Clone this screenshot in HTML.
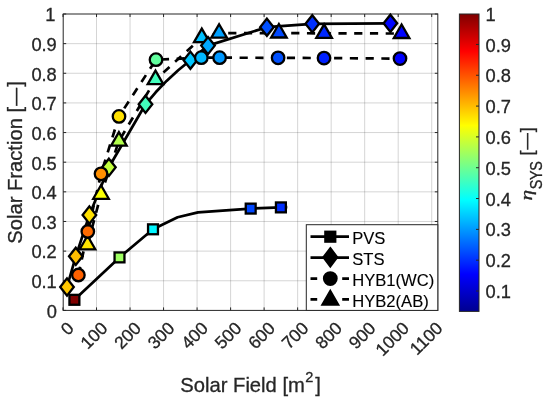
<!DOCTYPE html>
<html><head><meta charset="utf-8"><title>Solar Fraction vs Solar Field</title>
<style>html,body{margin:0;padding:0;background:#fff}svg{display:block}text{font-family:"Liberation Sans",sans-serif;fill:#262626;stroke:#262626;stroke-width:0.3px}</style></head><body>
<svg width="550" height="404" viewBox="0 0 550 404">
<rect width="550" height="404" fill="#fff"/>
<path d="M96.52 14.00V310.40M130.04 14.00V310.40M163.56 14.00V310.40M197.08 14.00V310.40M230.60 14.00V310.40M264.12 14.00V310.40M297.64 14.00V310.40M331.16 14.00V310.40M364.68 14.00V310.40M398.20 14.00V310.40M431.72 14.00V310.40M63.20 280.76H437.80M63.20 251.12H437.80M63.20 221.48H437.80M63.20 191.84H437.80M63.20 162.20H437.80M63.20 132.56H437.80M63.20 102.92H437.80M63.20 73.28H437.80M63.20 43.64H437.80" stroke="#262626" stroke-opacity="0.26" stroke-width="0.75" fill="none"/>
<path d="M63.00 310.40v-3.00M63.00 14.00v3.00M96.52 310.40v-3.00M96.52 14.00v3.00M130.04 310.40v-3.00M130.04 14.00v3.00M163.56 310.40v-3.00M163.56 14.00v3.00M197.08 310.40v-3.00M197.08 14.00v3.00M230.60 310.40v-3.00M230.60 14.00v3.00M264.12 310.40v-3.00M264.12 14.00v3.00M297.64 310.40v-3.00M297.64 14.00v3.00M331.16 310.40v-3.00M331.16 14.00v3.00M364.68 310.40v-3.00M364.68 14.00v3.00M398.20 310.40v-3.00M398.20 14.00v3.00M431.72 310.40v-3.00M431.72 14.00v3.00M63.20 310.40h3.00M437.80 310.40h-3.00M63.20 280.76h3.00M437.80 280.76h-3.00M63.20 251.12h3.00M437.80 251.12h-3.00M63.20 221.48h3.00M437.80 221.48h-3.00M63.20 191.84h3.00M437.80 191.84h-3.00M63.20 162.20h3.00M437.80 162.20h-3.00M63.20 132.56h3.00M437.80 132.56h-3.00M63.20 102.92h3.00M437.80 102.92h-3.00M63.20 73.28h3.00M437.80 73.28h-3.00M63.20 43.64h3.00M437.80 43.64h-3.00M63.20 14.00h3.00M437.80 14.00h-3.00" stroke="#262626" stroke-width="1" fill="none"/>
<rect x="63.20" y="14.00" width="374.60" height="296.40" fill="none" stroke="#262626" stroke-width="1.0"/>
<path d="M74.40 299.80L119.50 257.40L153.00 229.30L177.60 217.30L198.00 212.40L250.70 208.60L280.90 207.40L287.30 207.20" fill="none" stroke="#000" stroke-width="2.70" stroke-linejoin="round"/>
<path d="M67.00 287.00L75.80 256.30L89.40 215.00L108.90 167.30L145.50 104.30L155.70 92.30L166.60 80.90L178.20 70.20L190.40 60.20L208.00 45.60L266.90 27.20L312.30 23.80L390.40 23.30" fill="none" stroke="#000" stroke-width="2.70" stroke-linejoin="round"/>
<path d="M87.50 244.80L101.00 194.30L118.90 141.10L155.50 79.60L201.80 37.60L219.10 33.20L278.90 33.00L324.10 33.40L401.60 33.50" fill="none" stroke="#000" stroke-width="2.70" stroke-dasharray="8.2 7.55" stroke-dashoffset="14.07" stroke-linejoin="round"/>
<path d="M78.40 275.00L87.80 231.50L101.00 173.80L119.00 116.40L156.00 59.70L201.30 57.70L219.60 57.70L278.10 57.80L324.00 58.10L400.00 58.60" fill="none" stroke="#000" stroke-width="2.70" stroke-dasharray="8.2 7.55" stroke-dashoffset="15.56" stroke-linejoin="round"/>
<rect x="69.45" y="294.85" width="9.90" height="9.90" fill="#800000" stroke="#000" stroke-width="2.30"/>
<rect x="114.55" y="252.45" width="9.90" height="9.90" fill="#9eff61" stroke="#000" stroke-width="2.30"/>
<rect x="148.05" y="224.35" width="9.90" height="9.90" fill="#00f5ff" stroke="#000" stroke-width="2.30"/>
<rect x="245.75" y="203.65" width="9.90" height="9.90" fill="#0047ff" stroke="#000" stroke-width="2.30"/>
<rect x="275.95" y="202.45" width="9.90" height="9.90" fill="#002eff" stroke="#000" stroke-width="2.30"/>
<path d="M87.50 235.80L95.29 249.30L79.71 249.30Z" fill="#ffe500" stroke="#000" stroke-width="2.30"/>
<path d="M101.00 185.30L108.79 198.80L93.21 198.80Z" fill="#faff05" stroke="#000" stroke-width="2.30"/>
<path d="M118.90 132.10L126.69 145.60L111.11 145.60Z" fill="#b3ff4c" stroke="#000" stroke-width="2.30"/>
<path d="M155.50 70.60L163.29 84.10L147.71 84.10Z" fill="#42ffbd" stroke="#000" stroke-width="2.30"/>
<path d="M201.80 28.60L209.59 42.10L194.01 42.10Z" fill="#00c0ff" stroke="#000" stroke-width="2.30"/>
<path d="M219.10 24.20L226.89 37.70L211.31 37.70Z" fill="#00a0ff" stroke="#000" stroke-width="2.30"/>
<path d="M278.90 24.00L286.69 37.50L271.11 37.50Z" fill="#0048ff" stroke="#000" stroke-width="2.30"/>
<path d="M324.10 24.40L331.89 37.90L316.31 37.90Z" fill="#0028ff" stroke="#000" stroke-width="2.30"/>
<path d="M401.60 24.50L409.39 38.00L393.81 38.00Z" fill="#0003ff" stroke="#000" stroke-width="2.30"/>
<path d="M67.00 278.40L73.80 287.00L67.00 295.60L60.20 287.00Z" fill="#ffc700" stroke="#000" stroke-width="2.30"/>
<path d="M75.80 247.70L82.60 256.30L75.80 264.90L69.00 256.30Z" fill="#ffbd00" stroke="#000" stroke-width="2.30"/>
<path d="M89.40 206.40L96.20 215.00L89.40 223.60L82.60 215.00Z" fill="#ffe000" stroke="#000" stroke-width="2.30"/>
<path d="M108.90 158.70L115.70 167.30L108.90 175.90L102.10 167.30Z" fill="#c2ff3d" stroke="#000" stroke-width="2.30"/>
<path d="M145.50 95.70L152.30 104.30L145.50 112.90L138.70 104.30Z" fill="#42ffbd" stroke="#000" stroke-width="2.30"/>
<path d="M190.40 51.60L197.20 60.20L190.40 68.80L183.60 60.20Z" fill="#00c7ff" stroke="#000" stroke-width="2.30"/>
<path d="M208.00 37.00L214.80 45.60L208.00 54.20L201.20 45.60Z" fill="#00a8ff" stroke="#000" stroke-width="2.30"/>
<path d="M266.90 18.60L273.70 27.20L266.90 35.80L260.10 27.20Z" fill="#0050ff" stroke="#000" stroke-width="2.30"/>
<path d="M312.30 15.20L319.10 23.80L312.30 32.40L305.50 23.80Z" fill="#0030ff" stroke="#000" stroke-width="2.30"/>
<path d="M390.40 14.70L397.20 23.30L390.40 31.90L383.60 23.30Z" fill="#0005ff" stroke="#000" stroke-width="2.30"/>
<circle cx="78.40" cy="275.00" r="6.25" fill="#ff6100" stroke="#000" stroke-width="2.30"/>
<circle cx="87.80" cy="231.50" r="6.25" fill="#ff6b00" stroke="#000" stroke-width="2.30"/>
<circle cx="101.00" cy="173.80" r="6.25" fill="#ff8f00" stroke="#000" stroke-width="2.30"/>
<circle cx="119.00" cy="116.40" r="6.25" fill="#ffe000" stroke="#000" stroke-width="2.30"/>
<circle cx="156.00" cy="59.70" r="6.25" fill="#61ff9e" stroke="#000" stroke-width="2.30"/>
<circle cx="201.30" cy="57.70" r="6.25" fill="#00b8ff" stroke="#000" stroke-width="2.30"/>
<circle cx="219.60" cy="57.70" r="6.25" fill="#0098ff" stroke="#000" stroke-width="2.30"/>
<circle cx="278.10" cy="57.80" r="6.25" fill="#0050ff" stroke="#000" stroke-width="2.30"/>
<circle cx="324.00" cy="58.10" r="6.25" fill="#0020ff" stroke="#000" stroke-width="2.30"/>
<circle cx="400.00" cy="58.60" r="6.25" fill="#0000ff" stroke="#000" stroke-width="2.30"/>
<text x="56.8" y="317.70" font-size="18.3" text-anchor="end">0</text>
<text x="56.8" y="288.06" font-size="18.3" text-anchor="end">0.1</text>
<text x="56.8" y="258.42" font-size="18.3" text-anchor="end">0.2</text>
<text x="56.8" y="228.78" font-size="18.3" text-anchor="end">0.3</text>
<text x="56.8" y="199.14" font-size="18.3" text-anchor="end">0.4</text>
<text x="56.8" y="169.50" font-size="18.3" text-anchor="end">0.5</text>
<text x="56.8" y="139.86" font-size="18.3" text-anchor="end">0.6</text>
<text x="56.8" y="110.22" font-size="18.3" text-anchor="end">0.7</text>
<text x="56.8" y="80.58" font-size="18.3" text-anchor="end">0.8</text>
<text x="56.8" y="50.94" font-size="18.3" text-anchor="end">0.9</text>
<text x="55.5" y="21.30" font-size="18.3" text-anchor="end">1</text>
<text transform="translate(75.00 329.40) rotate(-45)" font-size="17.5" text-anchor="end">0</text>
<text transform="translate(108.52 329.40) rotate(-45)" font-size="17.5" text-anchor="end">100</text>
<text transform="translate(142.04 329.40) rotate(-45)" font-size="17.5" text-anchor="end">200</text>
<text transform="translate(175.56 329.40) rotate(-45)" font-size="17.5" text-anchor="end">300</text>
<text transform="translate(209.08 329.40) rotate(-45)" font-size="17.5" text-anchor="end">400</text>
<text transform="translate(242.60 329.40) rotate(-45)" font-size="17.5" text-anchor="end">500</text>
<text transform="translate(276.12 329.40) rotate(-45)" font-size="17.5" text-anchor="end">600</text>
<text transform="translate(309.64 329.40) rotate(-45)" font-size="17.5" text-anchor="end">700</text>
<text transform="translate(343.16 329.40) rotate(-45)" font-size="17.5" text-anchor="end">800</text>
<text transform="translate(376.68 329.40) rotate(-45)" font-size="17.5" text-anchor="end">900</text>
<text transform="translate(410.20 329.40) rotate(-45)" font-size="17.5" text-anchor="end">1000</text>
<text transform="translate(443.72 329.40) rotate(-45)" font-size="17.5" text-anchor="end">1100</text>
<text x="250.6" y="392.0" font-size="20.2" text-anchor="middle">Solar Field [m<tspan font-size="14.6" dy="-9.8" dx="0.5">2</tspan><tspan dy="9.8" dx="1.8">]</tspan></text>
<text transform="translate(22.3 162.4) rotate(-90)" font-size="20.2" text-anchor="middle">Solar Fraction [<tspan font-size="17.9" dx="1.15" dy="-1.7">—</tspan><tspan dx="1.15" dy="1.7">]</tspan></text>
<rect x="306.30" y="224.70" width="131.50" height="85.70" fill="#fff" stroke="#262626" stroke-width="1.0"/>
<path d="M310.5 236.70H349" stroke="#000" stroke-width="2.70" fill="none"/>
<rect x="325.35" y="231.75" width="9.90" height="9.90" fill="#000" stroke="#000" stroke-width="2.30"/>
<text x="352.2" y="244.10" font-size="16.6" style="fill:#000;stroke:#000;stroke-width:0.12px">PVS</text>
<path d="M310.5 257.60H349" stroke="#000" stroke-width="2.70" fill="none"/>
<path d="M330.30 248.30L337.10 257.30L330.30 266.30L323.50 257.30Z" fill="#000" stroke="#000" stroke-width="2.30"/>
<text x="352.2" y="265.00" font-size="16.6" style="fill:#000;stroke:#000;stroke-width:0.12px">STS</text>
<path d="M310.5 278.60H317.2M342.2 278.60H349" stroke="#000" stroke-width="2.70" fill="none"/>
<circle cx="330.30" cy="278.60" r="6.25" fill="#000" stroke="#000" stroke-width="2.30"/>
<text x="352.2" y="286.00" font-size="16.6" style="fill:#000;stroke:#000;stroke-width:0.12px">HYB1(WC)</text>
<path d="M310.5 299.30H317.2M342.2 299.30H349" stroke="#000" stroke-width="2.70" fill="none"/>
<path d="M330.30 291.10L338.09 304.60L322.51 304.60Z" fill="#000" stroke="#000" stroke-width="2.30"/>
<text x="352.2" y="306.70" font-size="16.6" style="fill:#000;stroke:#000;stroke-width:0.12px">HYB2(AB)</text>
<defs><linearGradient id="jet" x1="0" y1="1" x2="0" y2="0">
<stop offset="0" stop-color="#000090"/>
<stop offset="0.125" stop-color="#0000ff"/>
<stop offset="0.375" stop-color="#00ffff"/>
<stop offset="0.625" stop-color="#ffff00"/>
<stop offset="0.875" stop-color="#ff0000"/>
<stop offset="1" stop-color="#800000"/>
</linearGradient></defs>
<rect x="459.40" y="14.00" width="19.60" height="297.40" fill="url(#jet)" stroke="#262626" stroke-width="1"/>
<text x="485.5" y="298.10" font-size="18.3">0.1</text>
<text x="485.5" y="267.28" font-size="18.3">0.2</text>
<text x="485.5" y="236.46" font-size="18.3">0.3</text>
<text x="485.5" y="205.64" font-size="18.3">0.4</text>
<text x="485.5" y="174.82" font-size="18.3">0.5</text>
<text x="485.5" y="144.00" font-size="18.3">0.6</text>
<text x="485.5" y="113.18" font-size="18.3">0.7</text>
<text x="485.5" y="82.36" font-size="18.3">0.8</text>
<text x="485.5" y="51.54" font-size="18.3">0.9</text>
<text x="485.5" y="20.72" font-size="18.3">1</text>
<path d="M479.00 291.00h-3M479.00 260.18h-3M479.00 229.36h-3M479.00 198.54h-3M479.00 167.72h-3M479.00 136.90h-3M479.00 106.08h-3M479.00 75.26h-3M479.00 44.44h-3" stroke="#262626" stroke-width="1" fill="none"/>
<g transform="translate(532.9 199.8) rotate(-90)"><text transform="translate(-0.6 -0.7) scale(1.22 0.9)" x="0" y="0" font-style="italic" font-size="17.5" style="font-family:'Liberation Serif',serif">η</text><text transform="translate(10.6 8.9) scale(0.9 1)" x="0" y="0" font-size="16" letter-spacing="-0.45">SYS</text><text x="44.2" y="0" font-size="18.3">[<tspan font-size="16.4" dx="1" dy="-1.2">—</tspan><tspan dx="1" dy="1.2">]</tspan></text></g>
</svg></body></html>
